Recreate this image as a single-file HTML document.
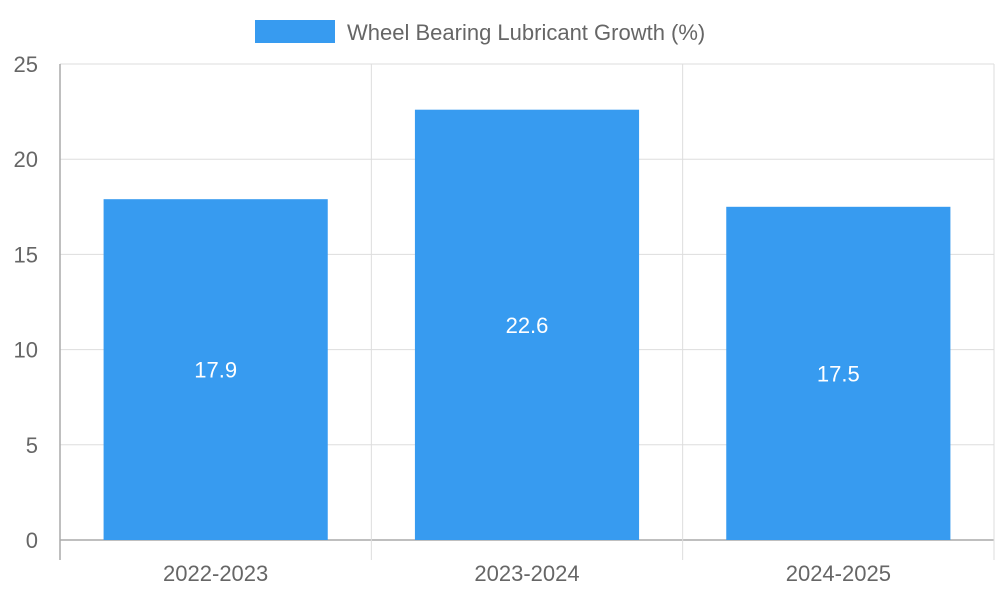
<!DOCTYPE html>
<html><head><meta charset="utf-8"><style>
html,body{margin:0;padding:0;background:#fff;}
svg{display:block;font-family:"Liberation Sans",Arial,sans-serif;}
</style></head><body>
<svg id="chart" width="1000" height="600">
<g id="legend">
<rect x="255" y="20" width="80" height="23" fill="#379bf0"></rect>
<text x="347" y="40" font-size="22" fill="#666">Wheel Bearing Lubricant Growth (%)</text>
</g>
<g id="grid"></g><g id="bars"></g><g id="labels"></g>
</svg>
<script>
const categories=["2022-2023","2023-2024","2024-2025"];
const values=[17.9,22.6,17.5];
const yTicks=[0,5,10,15,20,25];
const NS="http://www.w3.org/2000/svg";
const L=60,R=994,T=64,B=540,yMax=25;
const y=v=>B-(v/yMax)*(B-T);
const band=(R-L)/categories.length;
const x=i=>L+band*i;
function mk(tag,attrs,parent,text){const e=document.createElementNS(NS,tag);for(const k in attrs)e.setAttribute(k,attrs[k]);if(text!==undefined)e.textContent=text;parent.appendChild(e);return e;}
const grid=document.getElementById('grid'),bars=document.getElementById('bars'),labels=document.getElementById('labels');
yTicks.forEach(t=>{
 const ln=mk('line',{x1:L,x2:R,y1:y(t),y2:y(t),stroke:t===0?'#aaa':'#ddd','stroke-width':t===0?1.5:1},grid);
 
 
 const tx=mk('text',{x:38,y:y(t)+8,'text-anchor':'end','font-size':22,fill:'#666'},grid,String(t));
 
 
});
for(let i=0;i<=categories.length;i++){
 const ln=mk('line',{x1:x(i),x2:x(i),y1:T,y2:560,stroke:i===0?'#aaa':'#ddd','stroke-width':i===0?1.5:1},grid);
 
 
}
const bw=band*0.72;
categories.forEach((c,i)=>{
 const cx=x(i)+band/2;
 const r=mk('rect',{x:cx-bw/2,y:y(values[i]),width:bw,height:B-y(values[i]),fill:'#379bf0'},bars);
 
 
 const v=mk('text',{x:cx,y:(y(values[i])+B)/2+8,'text-anchor':'middle','font-size':22,fill:'#fff'},labels,String(values[i]));
 
 
 const t=mk('text',{x:cx,y:581,'text-anchor':'middle','font-size':22,fill:'#666'},labels,c);
 
 
});
</script>
</body></html>
